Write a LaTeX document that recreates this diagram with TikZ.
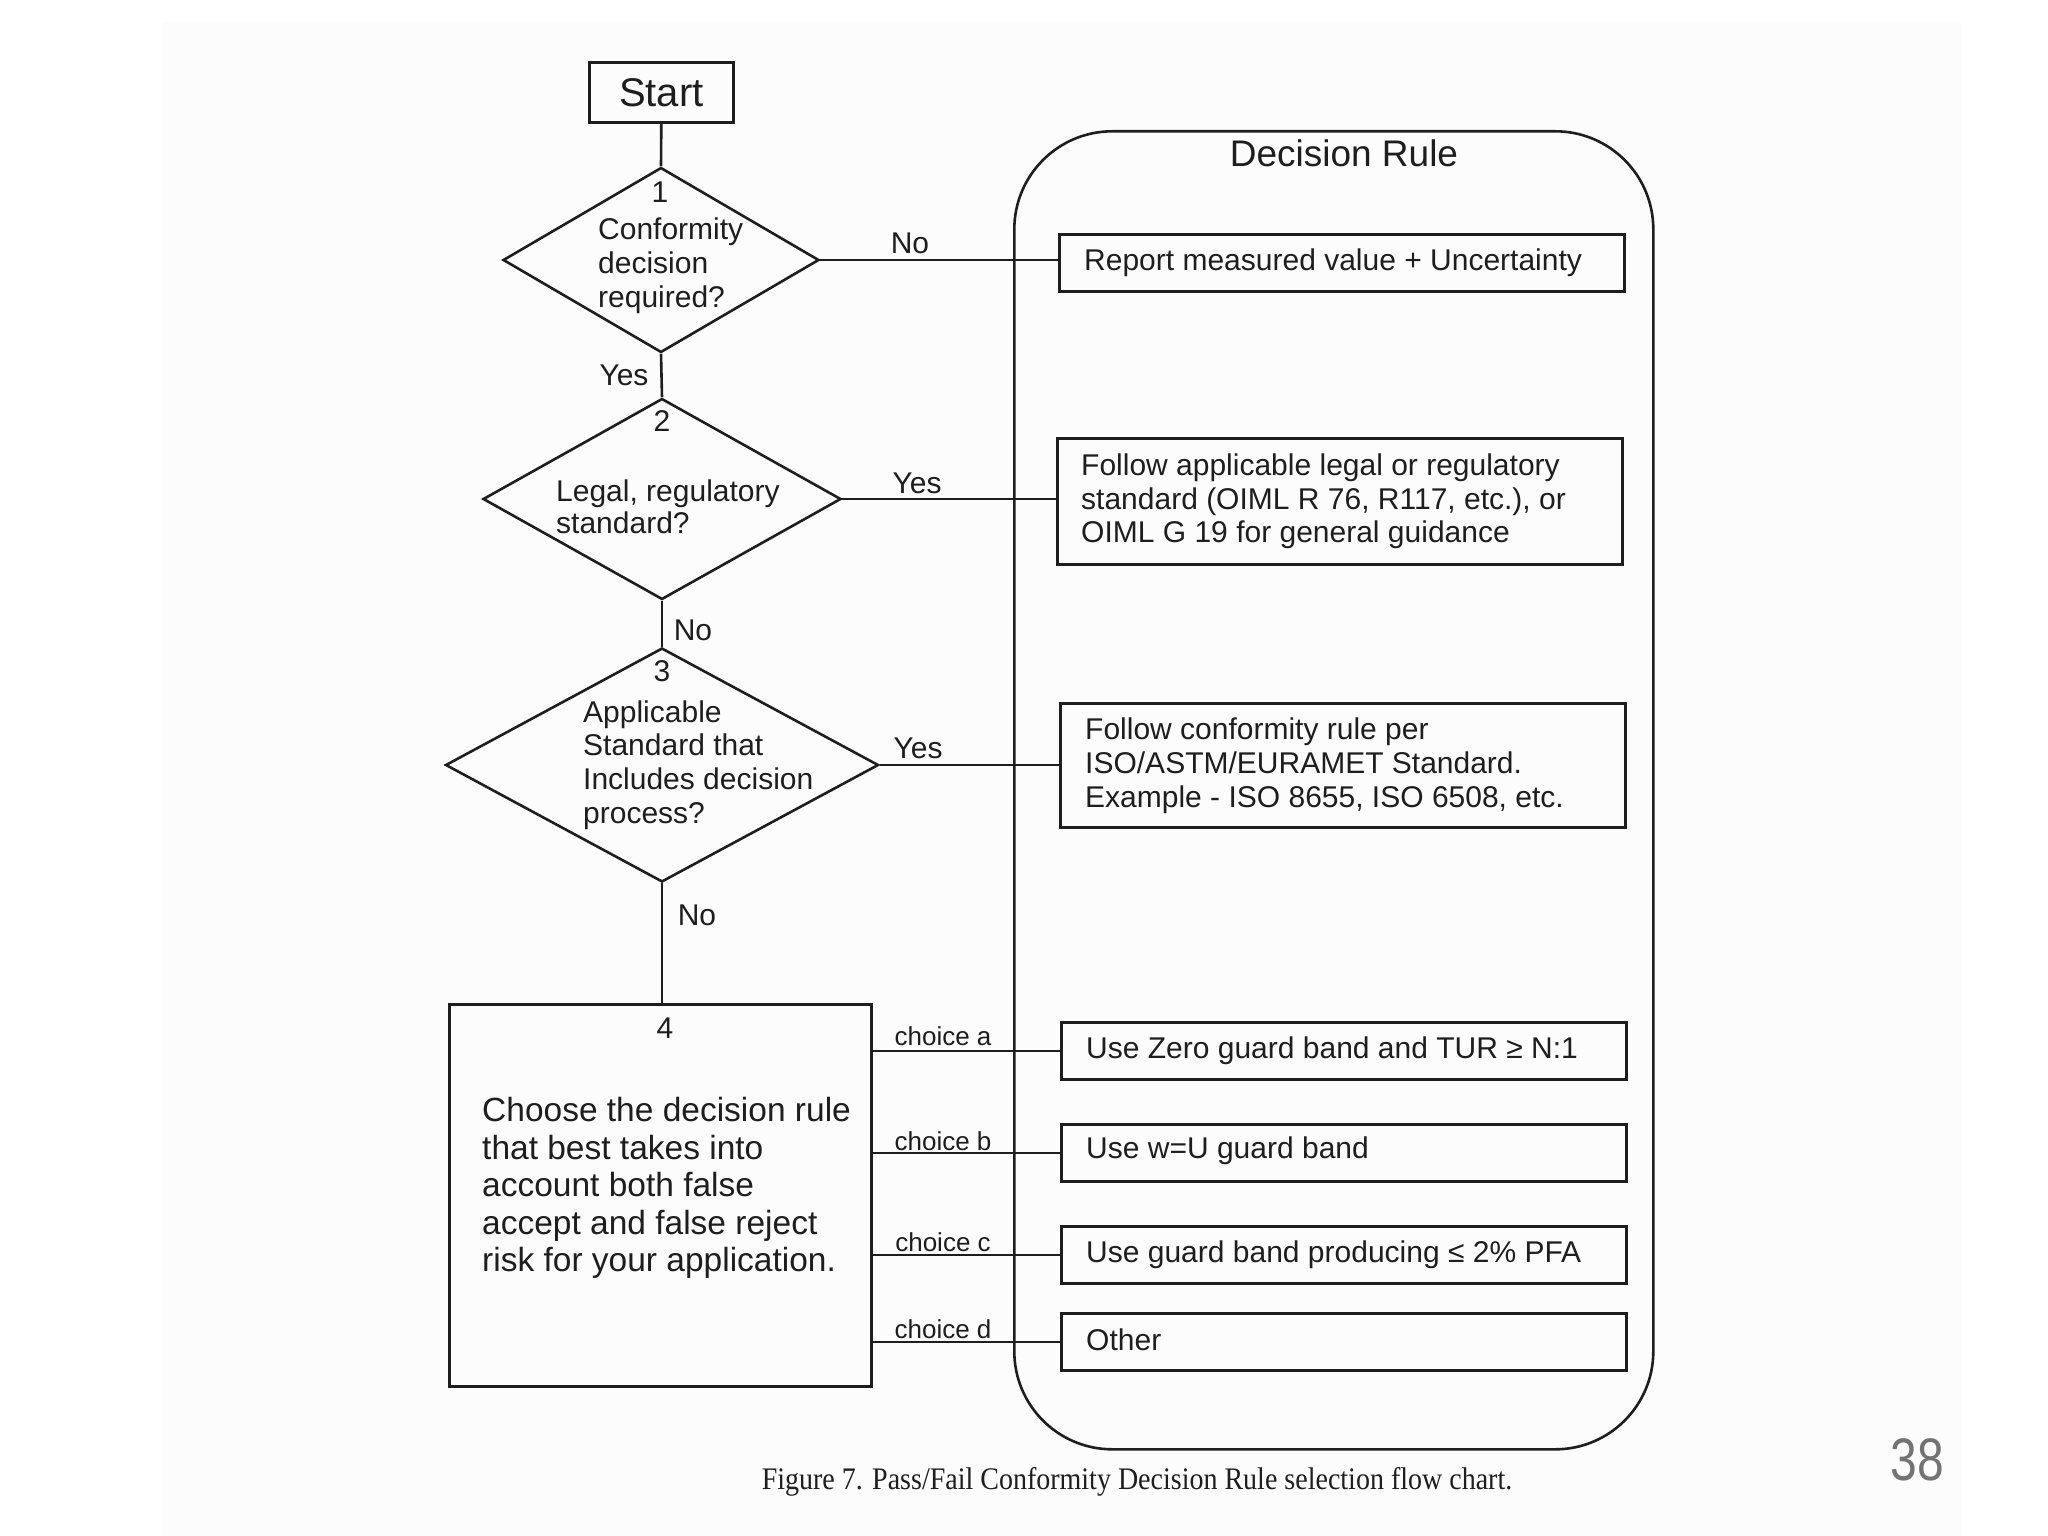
\documentclass[tikz,border=0pt]{standalone}
\usepackage{fontspec}
\setmainfont{Liberation Sans}
\newfontfamily\capfont{Liberation Serif}
\usetikzlibrary{shapes.geometric}
\definecolor{inkc}{RGB}{30,30,30}
\begin{document}
\begin{tikzpicture}[x=1pt,y=-1pt,
  ink/.style={draw=inkc, line width=2.6pt},
  box/.style={ink, rectangle, inner sep=0pt, anchor=north west},
  rulebox/.style={box, minimum width=565pt},
  ruletxt/.style={inner sep=0pt, anchor=west, align=left, text=inkc,
     font=\fontsize{30}{34}\selectfont},
  dia/.style={ink, diamond, inner sep=0pt},
  txt/.style={inner sep=0pt, text=inkc, font=\fontsize{30}{34}\selectfont},
  lbl/.style={inner sep=0pt, text=inkc, font=\fontsize{30}{34}\selectfont},
  chl/.style={inner sep=0pt, text=inkc, font=\fontsize{26}{30}\selectfont},
  num/.style={inner sep=0pt, text=inkc, font=\fontsize{30}{34}\selectfont}
]
\useasboundingbox (0,0) rectangle (2048,1536);
\fill[white] (0,0) rectangle (2048,1536);
\fill[black!1.2] (162,22) rectangle (1962,1536);

% start
\node[box, minimum width=144pt, minimum height=60pt, font=\fontsize{40}{44}\selectfont, text=inkc] (start) at (588,61) {Start};

% diamonds
\node[dia, minimum width=316pt, minimum height=185pt] (d1) at (661,260) {};
\node[dia, minimum width=358pt, minimum height=201pt] (d2) at (662,499) {};
\node[dia, minimum width=433pt, minimum height=234pt] (d3) at (662,765) {};

\node[num] (n1) at (660,192) {1};
\node[txt, anchor=west, align=left, font=\fontsize{30}{34}\selectfont] (t1) at (598,266) {Conformity\\decision\\required?};
\node[num] (n2) at (662,421) {2};
\node[txt, anchor=west, align=left, font=\fontsize{30}{32}\selectfont] (t2) at (556,507) {Legal, regulatory\\standard?};
\node[num] (n3) at (662,671) {3};
\node[txt, anchor=west, align=left, font=\fontsize{30}{33.7}\selectfont] (t3) at (583,765) {Applicable\\Standard that\\Includes decision\\process?};

% box 4
\node[box, minimum width=422pt, minimum height=382pt] (b4) at (448,1003) {};
\node[num] (n4) at (665,1028) {4};
\node[txt, anchor=west, align=left, font=\fontsize{33.5}{37.5}\selectfont] (t4) at (482,1188) {Choose the decision rule\\that best takes into\\account both false\\accept and false reject\\risk for your application.};

% decision rule container
\node[ink, rectangle, rounded corners=98pt, anchor=north west, minimum width=639pt, minimum height=1318pt, inner sep=0pt] (rule) at (1013,130) {};
\node[inner sep=0pt, text=inkc, font=\fontsize{37}{40}\selectfont] (ruleT) at (1344,153) {Decision Rule};

\node[rulebox, minimum height=57pt] (r1) at (1058,233) {};
\node[ruletxt] (r1t) at ([xshift=26pt]r1.west) {Report measured value + Uncertainty};
\node[rulebox, minimum height=126pt] (r2) at (1056,437) {};
\node[ruletxt, font=\fontsize{30}{33.5}\selectfont] (r2t) at ([xshift=25pt]r2.west) {Follow applicable legal or regulatory\\standard (OIML R 76, R117, etc.), or\\OIML G 19 for general guidance};
\node[rulebox, minimum height=124pt] (r3) at (1059,702) {};
\node[ruletxt] (r3t) at ([xshift=26pt]r3.west) {Follow conformity rule per\\ISO/ASTM/EURAMET Standard.\\Example - ISO 8655, ISO 6508, etc.};
\node[rulebox, minimum height=57pt] (ca) at (1060,1021) {};
\node[ruletxt] (cat) at ([xshift=26pt]ca.west) {Use Zero guard band and TUR ≥ N:1};
\node[rulebox, minimum height=57pt] (cb) at (1060,1123) {};
\node[ruletxt] (cbt) at ([xshift=26pt, yshift=2pt]cb.west) {Use w=U guard band};
\node[rulebox, minimum height=57pt] (cc) at (1060,1225) {};
\node[ruletxt] (cct) at ([xshift=26pt]cc.west) {Use guard band producing ≤ 2\% PFA};
\node[rulebox, minimum height=57pt] (cd) at (1060,1312) {};
\node[ruletxt] (cdt) at ([xshift=26pt, yshift=2pt]cd.west) {Other};

% connectors
\draw[ink] (start.south) -- (d1.north);
\draw[ink] (d1.south) -- (d2.north);
\draw[ink] (d2.south) -- (d3.north);
\draw[ink] (d3.south) -- (d3.south |- b4.north);
\draw[ink] (d1.east) -- (d1.east -| r1.west);
\draw[ink] (d2.east) -- (d2.east -| r2.west);
\draw[ink] (d3.east) -- (d3.east -| r3.west);
\draw[ink] (b4.east |- ca.west) -- (ca.west);
\draw[ink] (b4.east |- cb.west) -- (cb.west);
\draw[ink] (b4.east |- cc.west) -- (cc.west);
\draw[ink] (b4.east |- cd.west) -- (cd.west);

% labels
\node[lbl] (l1) at (910,243) {No};
\node[lbl] (l2) at (624,375) {Yes};
\node[lbl] (l3) at (917,483) {Yes};
\node[lbl] (l4) at (693,630) {No};
\node[lbl] (l5) at (918,748) {Yes};
\node[lbl] (l6) at (697,915) {No};
\node[chl] (la) at (943,1036) {choice a};
\node[chl] (lb) at (943,1141) {choice b};
\node[chl] (lc) at (943,1242) {choice c};
\node[chl] (ld) at (943,1329) {choice d};

% caption and page number
\node[inner sep=0pt, text=inkc, yscale=1.12, font=\capfont\fontsize{28}{32}\selectfont] (cap) at (1137,1482) {Figure 7. Pass/Fail Conformity Decision Rule selection flow chart.};
\node[inner sep=0pt, text=black!55, xscale=0.8, font=\fontsize{60}{64}\selectfont] (pg) at (1917,1460) {38};
\end{tikzpicture}
\end{document}
